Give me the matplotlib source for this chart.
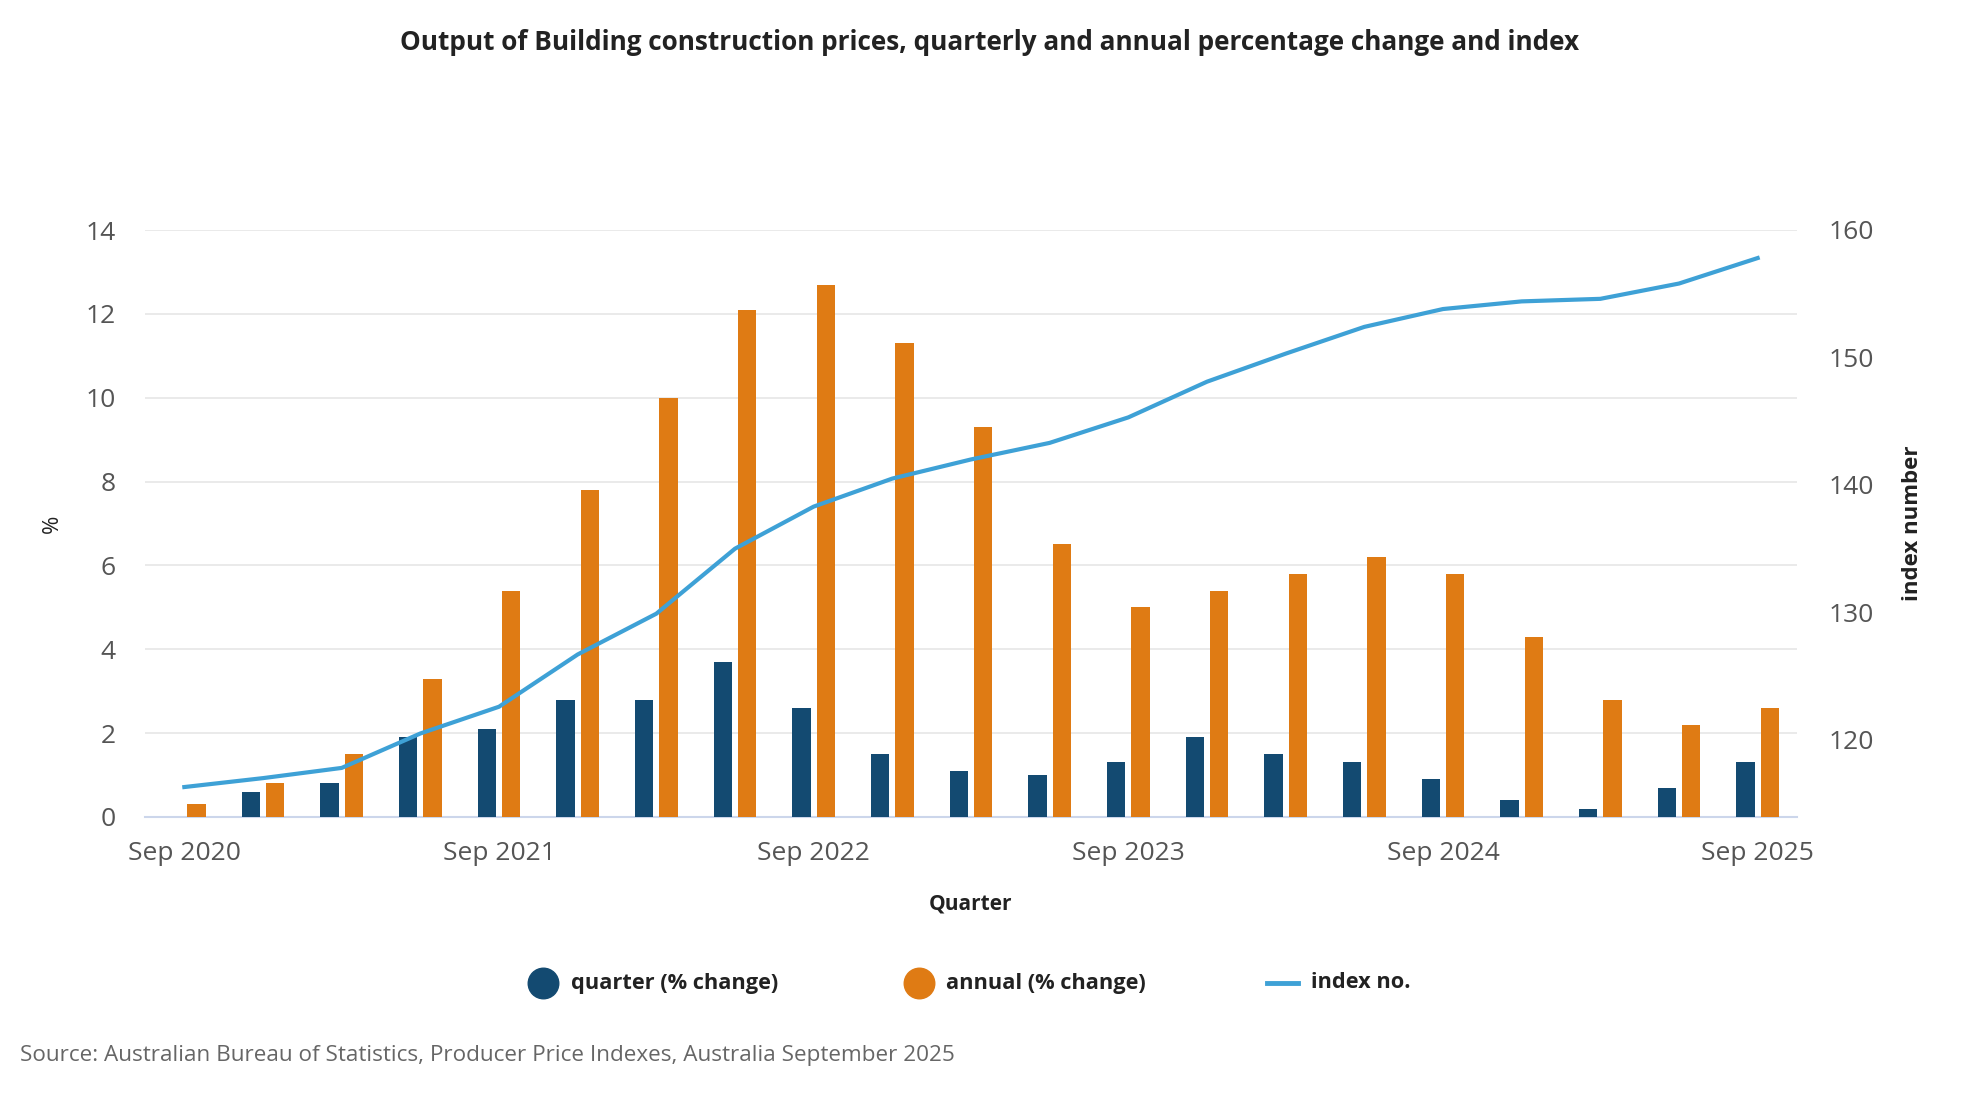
# Building construction output prices: quarterly / annual % change and index
import numpy as np
import matplotlib.pyplot as plt
from matplotlib.lines import Line2D

plt.rcParams['font.family'] = ['Open Sans', 'DejaVu Sans']

quarters = ['Sep 2020', 'Dec 2020', 'Mar 2021', 'Jun 2021', 'Sep 2021', 'Dec 2021',
            'Mar 2022', 'Jun 2022', 'Sep 2022', 'Dec 2022', 'Mar 2023', 'Jun 2023',
            'Sep 2023', 'Dec 2023', 'Mar 2024', 'Jun 2024', 'Sep 2024', 'Dec 2024',
            'Mar 2025', 'Jun 2025', 'Sep 2025']
quarter_chg = [np.nan, 0.6, 0.8, 1.9, 2.1, 2.8, 2.8, 3.7, 2.6, 1.5, 1.1, 1.0,
               1.3, 1.9, 1.5, 1.3, 0.9, 0.4, 0.2, 0.7, 1.3]
annual_chg = [0.3, 0.8, 1.5, 3.3, 5.4, 7.8, 10.0, 12.1, 12.7, 11.3, 9.3, 6.5,
              5.0, 5.4, 5.8, 6.2, 5.8, 4.3, 2.8, 2.2, 2.6]
index_no = [116.3, 117.0, 117.8, 120.5, 122.6, 126.7, 129.9, 135.0, 138.3, 140.5,
            142.0, 143.3, 145.3, 148.1, 150.3, 152.4, 153.8, 154.4, 154.6, 155.8, 157.8]
labels = ['quarter (% change)', 'annual (% change)', 'index no.']

c_q = '#134a71'
c_a = '#df7b14'
c_i = '#3ea1d6'

x = np.arange(len(quarters))
w = 0.235

fig = plt.figure(figsize=(19.8, 11), dpi=100)
ax = fig.add_axes([145/1980, 1 - 817/1100, (1797-145)/1980, (817-230)/1100])
ax2 = ax.twinx()

ax.bar(x - 0.155, quarter_chg, w, color=c_q, zorder=3)
ax.bar(x + 0.155, annual_chg, w, color=c_a, zorder=3)
ax2.plot(x, index_no, color=c_i, lw=3, zorder=4)

ax.set_xlim(-0.5, len(quarters) - 0.5)
ax.set_ylim(0, 14)
ax.set_yticks(range(0, 15, 2))
ax.grid(axis='y', color='#e6e6e6', lw=1.2, zorder=0)
ax2.set_ylim(113.95, 160)
ax2.set_yticks(range(120, 161, 10))

ax.set_xticks(x[::4])
ax.set_xticklabels(quarters[::4])

for a in (ax, ax2):
    for s in a.spines.values():
        s.set_visible(False)
    a.tick_params(length=0, labelsize=19, labelcolor='#555555')
ax.spines['bottom'].set_visible(True)
ax.spines['bottom'].set_color('#ccd6eb')
ax.spines['bottom'].set_linewidth(1.5)
ax.tick_params(axis='x', pad=17)
ax.tick_params(axis='y', pad=21)
ax2.tick_params(axis='y', pad=23)

ax.set_ylabel('%', fontsize=16, color='#222222', labelpad=16)
ax2.set_ylabel('index number', fontsize=16, fontweight='bold', color='#222222', labelpad=20)
ax.set_xlabel('Quarter', fontsize=15, fontweight='bold', color='#222222', labelpad=20)

fig.text(0.5, 1 - 42/1100, 'Output of Building construction prices, quarterly and annual percentage change and index',
         ha='center', va='center', fontsize=18.8, fontweight='bold', color='#222222')

# legend, laid out by hand
ly = 1 - 983/1100
fig.add_artist(Line2D([543/1980], [ly], ls='', marker='o', ms=22, color=c_q))
fig.add_artist(Line2D([919/1980], [ly], ls='', marker='o', ms=22, color=c_a))
fig.add_artist(Line2D([1267/1980, 1298/1980], [ly, ly], color=c_i, lw=3.5))
for tx, lab in zip([571, 946, 1311], labels):
    fig.text(tx/1980, ly, lab, ha='left', va='center', fontsize=15.7, fontweight='bold', color='#222222')

fig.text(20/1980, 1 - 1055/1100, 'Source: Australian Bureau of Statistics, Producer Price Indexes, Australia September 2025',
         ha='left', va='center', fontsize=16.2, color='#666666')

fig.savefig('out.png', dpi=100)
